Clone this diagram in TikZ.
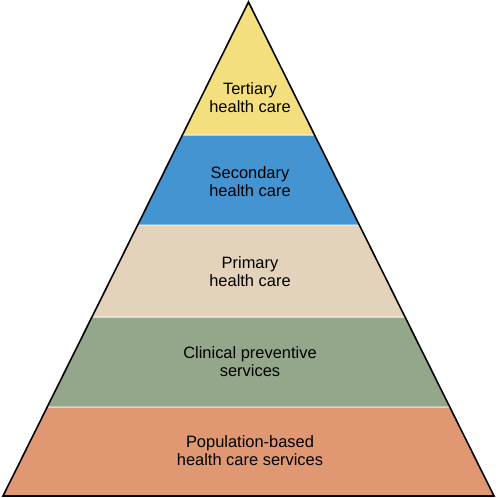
\documentclass[tikz,border=0pt]{standalone}
\usepackage{fontspec}
\setmainfont{Liberation Sans}
\usepackage{tikz}
\usetikzlibrary{calc}
\definecolor{tierYellow}{HTML}{F4DF7E}
\definecolor{tierBlue}{HTML}{4394D0}
\definecolor{tierBeige}{HTML}{E4D3BB}
\definecolor{tierGreen}{HTML}{94A78B}
\definecolor{tierOrange}{HTML}{E09873}

\begin{document}
\begin{tikzpicture}[x=1bp, y=-1bp,
  every node/.style={font=\fontsize{16.5}{18.3}\selectfont, align=center, inner sep=0pt, anchor=base},
  layer/.style={draw=white, line width=0.8pt},
  outline/.style={draw=black, line width=1.6pt, line join=miter}]
\useasboundingbox (0,0) rectangle (498,498);
\coordinate (apex) at (248.5,2);
\coordinate (bl) at (3,496);
\coordinate (br) at (494,496);
% layers, bottom to top
\fill[layer, fill=tierOrange] (47.2,407) -- (449.8,407) -- (br) -- (bl) -- cycle;
\fill[layer, fill=tierGreen] (92,317) -- (405,317) -- (449.8,407) -- (47.2,407) -- cycle;
\fill[layer, fill=tierBeige] (137.7,225) -- (359.3,225) -- (405,317) -- (92,317) -- cycle;
\fill[layer, fill=tierBlue] (182.4,135) -- (314.6,135) -- (359.3,225) -- (137.7,225) -- cycle;
\fill[layer, fill=tierYellow] (apex) -- (314.6,135) -- (182.4,135) -- cycle;
\draw[outline] (apex) -- (br) -- (bl) -- cycle;
% labels (baseline of last line)
\node (tertiary) at (250,112.8) {Tertiary\\health care};
\node (secondary) at (250,196.8) {Secondary\\health care};
\node (primary) at (250,286.3) {Primary\\health care};
\node (clinical) at (250,376.3) {Clinical preventive\\services};
\node (population) at (250,465.5) {Population-based\\health care services};
\end{tikzpicture}
\end{document}
